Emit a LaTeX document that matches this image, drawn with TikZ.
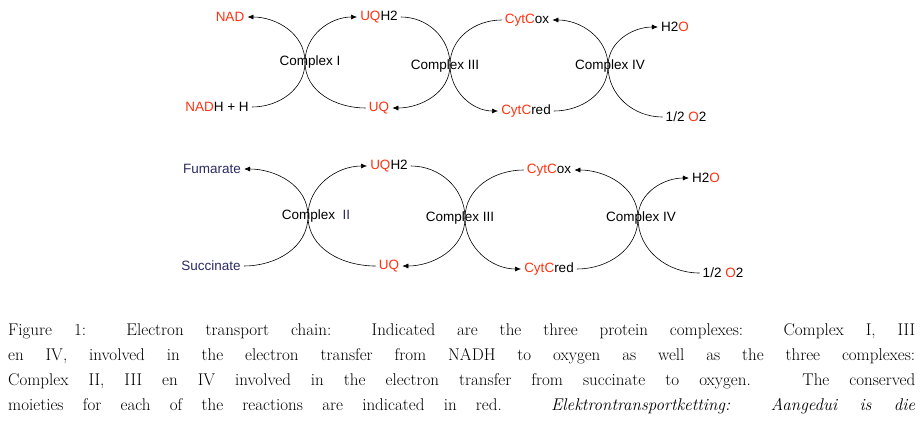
\documentclass[tikz,border=0pt]{standalone}
\usepackage{fontspec}
\setsansfont{Liberation Sans}
\usetikzlibrary{arrows.meta}
\definecolor{cred}{HTML}{FF3311}
\definecolor{cblue}{HTML}{2A2A66}
\begin{document}
\begin{tikzpicture}[x=1pt,y=-1pt,
  lab/.style={font=\sffamily\fontsize{13.5}{15}\selectfont,inner sep=3pt},
  cx/.style={font=\sffamily\fontsize{13.5}{15}\selectfont,inner sep=0pt},
  arc/.style={draw=black,line width=0.6pt,-{Latex[length=6pt,width=5pt]}},
  captxt/.style={anchor=base west,inner sep=0pt,font=\rmfamily\fontsize{17}{20}\selectfont}]
\useasboundingbox (0,0) rectangle (923,434);
% top row
\node[lab] (nad) at (230,17) {\textcolor{cred}{NAD}};
\node[lab] (nadh) at (217,107) {\textcolor{cred}{NAD}H + H};
\node[lab] (uqhA) at (379,17) {\textcolor{cred}{UQ}H2};
\node[lab] (uqA) at (379,108) {\textcolor{cred}{UQ}};
\node[lab] (coxA) at (527,20) {\textcolor{cred}{CytC}ox};
\node[lab] (credA) at (526,111) {\textcolor{cred}{CytC}red};
\node[lab] (hoA) at (675,27) {H2\textcolor{cred}{O}};
\node[lab] (oA) at (686,117) {1/2 \textcolor{cred}{O}2};
\node[cx] (lI) at (310,62) {Complex I};
\node[cx] (lIIIa) at (445,66) {Complex III};
\node[cx] (lIVa) at (610,66) {Complex IV};
\coordinate (cI) at (305,62);
\coordinate (cIIIa) at (450,65);
\coordinate (cIVa) at (608,66);
\draw[arc] (nadh.east) to[out=0,in=-90] (cI) to[out=90,in=180] (uqhA.west);
\draw[arc] (uqA.west) to[out=180,in=-90] (cI) to[out=90,in=0] (nad.east);
\draw[arc] (uqhA.east) to[out=0,in=90] (cIIIa) to[out=-90,in=180] (credA.west);
\draw[arc] (coxA.west) to[out=180,in=90] (cIIIa) to[out=-90,in=0] (uqA.east);
\draw[arc] (credA.east) to[out=0,in=-90] (cIVa) to[out=90,in=180] (hoA.west);
\draw[arc] (oA.west) to[out=180,in=-90] (cIVa) to[out=90,in=0] (coxA.east);
% bottom row
\node[lab,text=cblue] (fum) at (212,169) {Fumarate};
\node[lab,text=cblue] (suc) at (211,266) {Succinate};
\node[lab] (uqhB) at (389,166) {\textcolor{cred}{UQ}H2};
\node[lab] (uqB) at (389,266) {\textcolor{cred}{UQ}};
\node[lab] (coxB) at (549,170) {\textcolor{cred}{CytC}ox};
\node[lab] (credB) at (549,269) {\textcolor{cred}{CytC}red};
\node[lab] (hoB) at (706,178) {H2\textcolor{cred}{O}};
\node[lab] (oB) at (723,273) {1/2 \textcolor{cred}{O}2};
\node[cx] (lII) at (316,216) {Complex\ \ \textcolor{cblue}{II}};
\node[cx] (lIIIb) at (460,218) {Complex III};
\node[cx] (lIVb) at (641,218) {Complex IV};
\coordinate (cII) at (308,216);
\coordinate (cIIIb) at (465,218);
\coordinate (cIVb) at (638,218);
\draw[arc] (suc.east) to[out=0,in=-90] (cII) to[out=90,in=180] (uqhB.west);
\draw[arc] (uqB.west) to[out=180,in=-90] (cII) to[out=90,in=0] (fum.east);
\draw[arc] (uqhB.east) to[out=0,in=90] (cIIIb) to[out=-90,in=180] (credB.west);
\draw[arc] (coxB.west) to[out=180,in=90] (cIIIb) to[out=-90,in=0] (uqB.east);
\draw[arc] (credB.east) to[out=0,in=-90] (cIVb) to[out=90,in=180] (hoB.west);
\draw[arc] (oB.west) to[out=180,in=-90] (cIVb) to[out=90,in=0] (coxB.east);
% caption
\node[captxt] (l1) at (8,335) {\makebox[907pt][s]{Figure 1: Electron transport chain: Indicated are the three protein complexes: Complex I, III}};
\node[captxt] (l2) at (8,360) {\makebox[907pt][s]{en IV, involved in the electron transfer from NADH to oxygen as well as the three complexes:}};
\node[captxt] (l3) at (8,385) {\makebox[907pt][s]{Complex II, III en IV involved in the electron transfer from succinate to oxygen. The conserved}};
\node[captxt] (l4) at (8,410) {\makebox[907pt][s]{moieties for each of the reactions are indicated in red. \textit{Elektrontransportketting: Aangedui is die}}};
\end{tikzpicture}
\end{document}
